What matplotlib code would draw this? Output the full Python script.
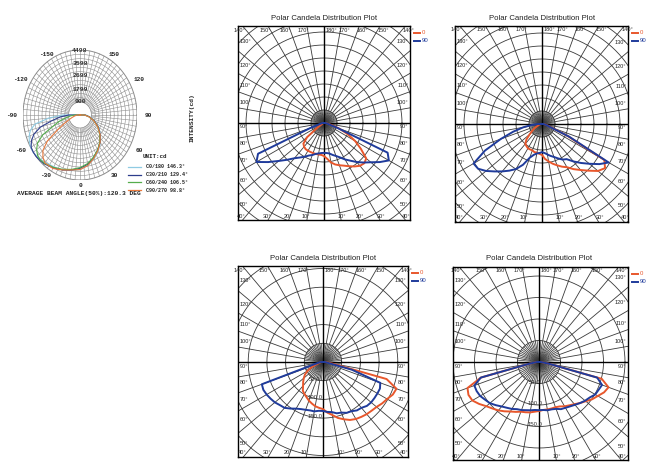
import numpy as np
import matplotlib
matplotlib.use("Agg")
import matplotlib.pyplot as plt
from matplotlib.lines import Line2D

W, H = 651, 463

# ---------------- left chart: C-plane polar curve (cd) ----------------
max_cd = 4498
ring_vals = [900, 1799, 2699, 3598, 4498]
angle_ticks = [-150, -120, -90, -60, -30, 0, 30, 60, 90, 120, 150]
gamma_l = [-90, -85, -80, -75, -70, -65, -60, -55, -50, -45, -40, -30,
           -20, -10, 0, 10, 20, 30, 40, 50, 60, 70, 80, 90]
c0_180 = [1349, 2474, 3598, 4048, 4273, 4408, 4498, 4498, 4453, 4363, 4273, 4138,
          4048, 3913, 3778, 3553, 3239, 2879, 2519, 2114, 1709, 1259, 810, 450]
c30_210 = [900, 1574, 2249, 3239, 3868, 4228, 4453, 4498, 4498, 4453, 4408, 4228,
           4048, 3868, 3688, 3463, 3149, 2789, 2474, 2069, 1664, 1214, 765, 405]
c60_240 = [450, 765, 1125, 1709, 2249, 3239, 3868, 4183, 4363, 4408, 4363, 4183,
           4003, 3823, 3643, 3418, 3104, 2789, 2429, 2024, 1619, 1169, 720, 360]
c90_270 = [225, 315, 450, 630, 900, 1349, 2024, 3149, 3823, 4138, 4318, 4273,
           4048, 3868, 3778, 3553, 3194, 2834, 2474, 2069, 1619, 1169, 720, 360]
c_names = ["C0/180 146.3°", "C30/210 129.4°", "C60/240 106.5°", "C90/270 98.8°"]
c_colors = ["#8fcbe3", "#2d3d8c", "#55ad4c", "#e87a3e"]

# ---------------- right charts: 0 / 90 planes (cd) ----------------
gamma = list(range(0, 95, 5))
tl_0_left = [127, 123, 123, 123, 123, 123, 123, 123, 119, 112, 85, 31, 12, 8, 6, 5, 4, 4, 4]
tl_0_right = [127, 138, 154, 165, 173, 181, 192, 204, 215, 219, 212, 173, 138, 100, 62, 31, 15, 8, 6]
tl_90_left = [115, 116, 119, 123, 131, 138, 150, 162, 177, 200, 227, 262, 300, 280, 55, 20, 12, 8, 6]
tl_90_right = [115, 116, 119, 127, 135, 146, 162, 177, 196, 215, 235, 262, 288, 270, 54, 19, 12, 8, 6]

tr_0_left = [119, 115, 112, 112, 108, 108, 108, 104, 100, 85, 62, 46, 35, 23, 15, 12, 8, 4, 4]
tr_0_right = [119, 135, 146, 158, 169, 181, 192, 212, 231, 254, 281, 296, 277, 108, 38, 23, 15, 8, 6]
tr_90_left = [108, 112, 115, 123, 138, 173, 200, 219, 238, 258, 281, 300, 304, 242, 169, 115, 73, 38, 15]
tr_90_right = [108, 112, 119, 127, 135, 146, 158, 165, 188, 212, 238, 269, 296, 115, 31, 19, 12, 8, 6]

bl_0_left = [126, 123, 120, 115, 110, 104, 99, 94, 83, 75, 67, 59, 48, 35, 21, 11, 8, 5, 3]
bl_0_right = [126, 136, 144, 155, 163, 171, 176, 179, 182, 184, 187, 193, 198, 206, 209, 176, 27, 11, 5]
bl_90_left = [131, 131, 134, 134, 136, 139, 144, 152, 160, 163, 168, 171, 174, 176, 174, 27, 13, 8, 5]
bl_90_right = [131, 134, 136, 142, 144, 150, 152, 158, 160, 166, 168, 168, 168, 168, 163, 80, 13, 8, 5]

br_0_left = [114, 116, 119, 121, 123, 128, 133, 140, 147, 153, 160, 170, 179, 181, 177, 140, 23, 7, 5]
br_0_right = [114, 112, 112, 112, 112, 114, 119, 123, 128, 135, 142, 151, 158, 167, 172, 151, 23, 7, 5]
br_90_left = [112, 112, 114, 116, 119, 121, 126, 130, 135, 142, 149, 153, 158, 160, 160, 140, 23, 7, 5]
br_90_right = [112, 112, 114, 114, 116, 121, 123, 126, 130, 135, 140, 144, 151, 153, 156, 140, 23, 7, 5]

ring_step = 50
ring_text = ["50.0", "100.0", "150.0"]
plot_title = "Polar Candela Distribution Plot"
series_names = ["0", "90"]
series_colors = ["#e8572c", "#1f3b9b"]

mono = ["Liberation Mono", "DejaVu Sans Mono"]
sans = ["Liberation Sans", "DejaVu Sans"]
grid_c = "#3a3a3a"


def px_box(l, t, r, b):
    return [l / W, 1 - b / H, (r - l) / W, (b - t) / H]


fig = plt.figure(figsize=(W / 100, H / 100), dpi=100)
fig.patch.set_facecolor("white")

# ---------------- left chart ----------------
ax = fig.add_axes(px_box(23, 50, 137, 180))
ax.set_xlim(-max_cd, max_cd)
ax.set_ylim(-max_cd, max_cd)
ax.axis("off")
tt = np.linspace(0, 2 * np.pi, 361)
step = max_cd / 15
for k in range(3, 16):
    rr = k * step
    ax.plot(rr * np.cos(tt), rr * np.sin(tt), color="#8c8c8c",
            lw=0.7 if k == 15 else 0.4, zorder=1)
for a in range(0, 360, 5):
    ar = np.radians(a)
    ax.plot([3 * step * np.sin(ar), max_cd * np.sin(ar)],
            [3 * step * np.cos(ar), max_cd * np.cos(ar)],
            color="#8c8c8c", lw=0.4, zorder=1)
g = np.radians(gamma_l)
for vals, col in zip([c0_180, c30_210, c60_240, c90_270], c_colors):
    v = np.array(vals)
    ax.plot(np.r_[0, v * np.sin(g), 0], np.r_[0, -v * np.cos(g), 0],
            color=col, lw=0.8, zorder=3)
for a in angle_ticks:
    ar = np.radians(a)
    ax.text(1.2 * max_cd * np.sin(ar), -1.08 * max_cd * np.cos(ar), str(a),
            ha="center", va="center", fontsize=4.4, family=mono,
            fontweight="bold", color="#222222")
for v in ring_vals:
    ax.text(0, v, str(v), ha="center", va="center", fontsize=4.6,
            family=mono, fontweight="bold", color="#333333", zorder=4)

fig.text(79 / W, 1 - 193 / H, "AVERAGE BEAM ANGLE(50%):120.3 DEG", ha="center",
         va="center", fontsize=4.5, family=mono, fontweight="bold", color="#222222")
fig.text(192 / W, 1 - 118 / H, "INTENSITY(cd)", rotation=90, ha="center",
         va="center", fontsize=4.5, family=mono, fontweight="bold", color="#222222")
fig.text(143 / W, 1 - 157 / H, "UNIT:cd", ha="left", va="center", fontsize=4.2,
         family=mono, fontweight="bold", color="#222222")
for i, (name, col) in enumerate(zip(c_names, c_colors)):
    yy = 1 - (167 + 7.7 * i) / H
    fig.add_artist(Line2D([128 / W, 141 / W], [yy, yy], color=col, lw=0.9,
                          transform=fig.transFigure))
    fig.text(146 / W, yy, name, ha="left", va="center", fontsize=3.6,
             family=mono, fontweight="bold", color="#222222")

# ---------------- right charts ----------------
charts = [
    ((238, 26, 410, 220), (324, 123), 13.0, [tl_0_left, tl_0_right], [tl_90_left, tl_90_right], None),
    ((455, 26, 628, 222), (542, 124), 13.0, [tr_0_left, tr_0_right], [tr_90_left, tr_90_right], None),
    ((238, 266, 408, 457), (323, 362), 18.7, [bl_0_left, bl_0_right], [bl_90_left, bl_90_right], -8),
    ((453, 267, 628, 460), (539, 362), 21.5, [br_0_left, br_0_right], [br_90_left, br_90_right], -4),
]

gr = np.radians(gamma)
for box, ctr, ring_px, s0, s90, lab_dx in charts:
    l, t, r, b = box
    cx, cy = ctr
    s = ring_px / ring_step
    ax = fig.add_axes(px_box(l, t, r, b))
    ax.set_xlim((l - cx) / s, (r - cx) / s)
    ax.set_ylim((cy - b) / s, (cy - t) / s)
    ax.set_xticks([])
    ax.set_yticks([])
    for sp in ax.spines.values():
        sp.set_linewidth(1.0)
        sp.set_color("black")
    big = np.hypot(max(cx - l, r - cx), max(cy - t, b - cy)) / s
    for k in range(1, int(big / ring_step) + 2):
        rr = k * ring_step
        ax.plot(rr * np.cos(tt), rr * np.sin(tt), color=grid_c, lw=0.6, zorder=1)
    for a in range(0, 360, 10):
        ar = np.radians(a)
        ax.plot([0, big * np.sin(ar)], [0, big * np.cos(ar)], color=grid_c, lw=0.6, zorder=1)
    for a in range(5, 360, 10):
        ar = np.radians(a)
        ax.plot([0, ring_step * np.sin(ar)], [0, ring_step * np.cos(ar)],
                color=grid_c, lw=0.5, zorder=1)
    ax.axhline(0, color="black", lw=1.0, zorder=2)
    ax.axvline(0, color="black", lw=1.0, zorder=2)

    for (left, right), col in zip([s0, s90], series_colors):
        lv = np.array(left)[::-1]
        rv = np.array(right)
        x = np.r_[0, -lv * np.sin(gr[::-1]), rv * np.sin(gr), 0]
        y = np.r_[0, -lv * np.cos(gr[::-1]), -rv * np.cos(gr), 0]
        ax.plot(x, y, color=col, lw=1.4, zorder=3)

    if lab_dx is not None:
        for i, txt in enumerate(ring_text):
            ax.text(lab_dx / s, -(i + 1) * ring_step + 1.5 / s, txt, ha="center",
                    va="center", fontsize=4.3, family=sans, color="#333333", zorder=4)

    # angle labels along the frame
    wl, wr, ht, hb = cx - l, r - cx, cy - t, b - cy
    for side in (-1, 1):
        for a in range(10, 190, 10):
            if a == 180 and side < 0:
                continue
            ar = np.radians(a)
            dx, dy = side * np.sin(ar), -np.cos(ar)
            tx = (wr if side > 0 else wl) / abs(dx) if abs(dx) > 1e-9 else np.inf
            ty = (ht if dy > 0 else hb) / abs(dy) if abs(dy) > 1e-9 else np.inf
            lab = f"{a}°"
            if tx < ty:
                py = tx * dy
                sign = 1 if a > 90 else -1
                ly = py + sign * (4 + 0.08 * abs(py))
                lx = side * ((wr if side > 0 else wl) - 1.5)
                ax.text(lx / s, ly / s, lab, ha="right" if side > 0 else "left",
                        va="center", fontsize=4.0, family=sans, color="#222222")
            elif dy > 0:
                px = ty * dx + side * 3 if a != 180 else 7
                ax.text(px / s, (ht - 1.5) / s, lab, ha="center", va="top",
                        fontsize=4.0, family=sans, color="#222222")
            else:
                px = ty * dx + side * 1
                ax.text(px / s, -(hb - 1.5) / s, lab, ha="center", va="bottom",
                        fontsize=4.0, family=sans, color="#222222")

    fig.text(cx / W, 1 - (t - 8) / H, plot_title, ha="center", va="center",
             fontsize=5.6, family=sans, color="#222222")
    for i, (name, col) in enumerate(zip(series_names, series_colors)):
        yy = 1 - (t + 6.5 + 8 * i) / H
        fig.add_artist(Line2D([(r + 4) / W, (r + 10) / W], [yy, yy], color=col,
                              lw=1.4, transform=fig.transFigure))
        fig.text((r + 12) / W, yy, name, ha="left", va="center", fontsize=4.3,
                 family=sans, color=col)

fig.savefig("out.png", dpi=100, facecolor="white")
